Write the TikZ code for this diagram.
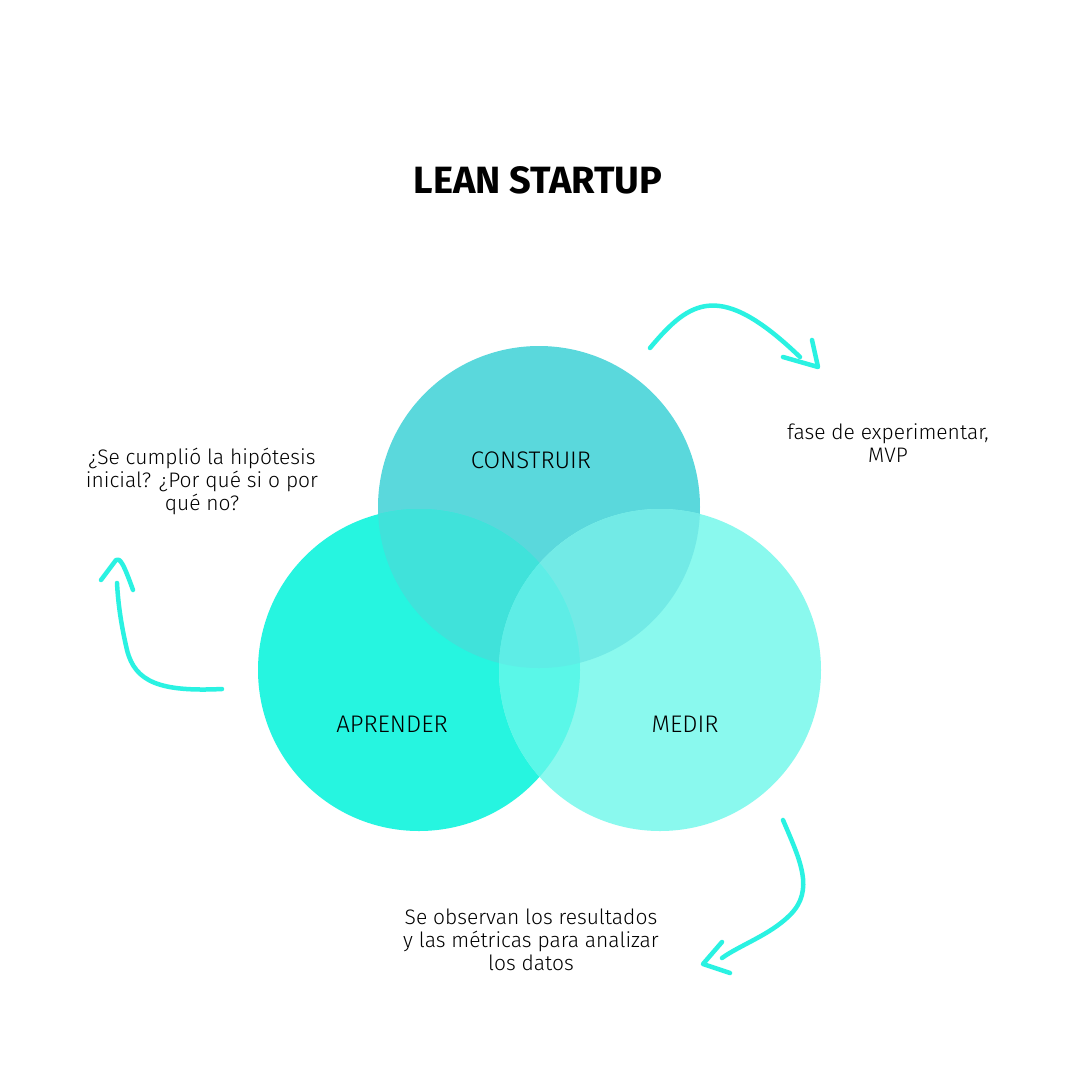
\documentclass[tikz,border=0pt]{standalone}
\usepackage{fontspec}
\setmainfont{Fira Sans Light}
\newfontfamily\titlefont{Fira Sans}
\definecolor{ctop}{HTML}{5AD8DC}
\definecolor{cleft}{HTML}{26F5E0}
\definecolor{cright}{HTML}{8AF9EE}
\definecolor{ctl}{HTML}{40E2DA}
\definecolor{ctr}{HTML}{72EAE6}
\definecolor{clr}{HTML}{5AF7E8}
\definecolor{call}{HTML}{5EEDE6}
\definecolor{arr}{HTML}{2AF2E2}
\tikzset{handarrow/.style={draw=arr,line width=4.5pt,line cap=round,line join=round},
lbl/.style={font=\fontsize{24}{26}\selectfont,align=center,text=black},
desc/.style={font=\fontsize{21}{23}\selectfont,align=center,text=black}}
\begin{document}
\begin{tikzpicture}[x=1pt,y=-1pt]
\useasboundingbox[fill=white] (0,0) rectangle (1080,1080);
\node[font=\titlefont\bfseries\fontsize{38}{40}\selectfont] (title) at (538,180) {LEAN STARTUP};
\fill[ctop] (539,507) circle (161);
\fill[cleft] (419,670) circle (161);
\fill[cright] (660,670) circle (161);
\begin{scope}\clip (539,507) circle (161); \fill[ctl] (419,670) circle (161); \fill[ctr] (660,670) circle (161);\end{scope}
\begin{scope}\clip (419,670) circle (161); \fill[clr] (660,670) circle (161);
\clip (660,670) circle (161); \fill[call] (539,507) circle (161);\end{scope}
\node[lbl] (c) at (531,460) {CONSTRUIR};
\node[lbl] (a) at (392,724) {APRENDER};
\node[lbl] (m) at (685,724) {MEDIR};
\node[desc] (t1) at (888,443) {fase de experimentar,\\MVP};
\node[desc] (t2) at (202,481) {¿Se cumplió la hipótesis\\inicial? ¿Por qué si o por\\qué no?};
\node[desc] (t3) at (531,940) {Se observan los resultados\\y las métricas para analizar\\los datos};
\coordinate (a1s) at (650,348); \coordinate (a1e) at (800,357);
\draw[handarrow] (a1s) .. controls (690,300) and (720,280) .. (a1e);
\draw[handarrow] (783,357) -- (818,367) -- (812,340);
\coordinate (a2s) at (222,689); \coordinate (a2e) at (117,583);
\draw[handarrow] (a2s) .. controls (160,692) and (135,682) .. (127,650) .. controls (120,620) and (118,600) .. (a2e);
\draw[handarrow] (101,580) -- (116,560) .. controls (120,557) and (124,565) .. (133,590);
\coordinate (a3s) at (783,820); \coordinate (a3e) at (722,958);
\draw[handarrow] (a3s) .. controls (800,860) and (815,890) .. (790,915) .. controls (770,935) and (740,945) .. (a3e);
\draw[handarrow] (722,942) -- (703,964) -- (730,973);
\end{tikzpicture}
\end{document}
